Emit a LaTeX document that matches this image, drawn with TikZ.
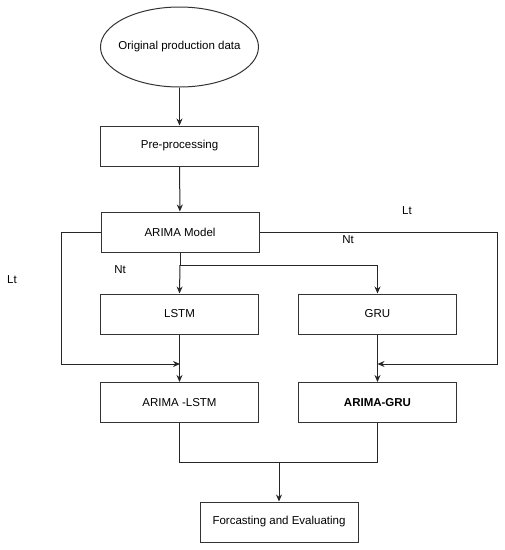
\documentclass[tikz,border=0pt]{standalone}
\usepackage{fontspec}
\setmainfont{Liberation Sans}
\usetikzlibrary{shapes.geometric,arrows.meta}
\begin{document}
\begin{tikzpicture}[x=1pt,y=-1pt,
  line width=1pt, draw=black!85,
  box/.style={draw=black!80, line width=1pt, rectangle, minimum width=158pt, minimum height=40pt, inner sep=0pt, font=\fontsize{11.5}{13}\selectfont},
  oval/.style={draw=black!80, line width=1pt, ellipse, minimum width=158pt, minimum height=80pt, inner xsep=-9pt, inner ysep=0pt, font=\fontsize{11.5}{13}\selectfont},
  arr/.style={draw=black!85, -{Stealth[length=7pt,width=6pt]}},
  lab/.style={font=\fontsize{11.5}{13}\selectfont, inner sep=0pt}]
\useasboundingbox (0,0) rectangle (505,550);
\node[oval] (orig) at (179.5,47) {Original production data};
\node[box] (pre) at (179.5,146) {Pre-processing};
\node[box] (arima) at (180,232) {ARIMA Model};
\node[box] (lstm) at (179.5,314) {LSTM};
\node[box] (gru) at (377.5,314) {GRU};
\node[box] (alstm) at (179.5,402.5) {ARIMA -LSTM};
\node[box] (agru) at (377.5,402.5) {\textbf{ARIMA-GRU}};
\node[box] (fe) at (279,522) {Forcasting and Evaluating};
\coordinate (split) at (180,265);
\coordinate (ljoin) at (180,364);
\coordinate (rjoin) at (377.5,364);
\coordinate (merge) at (279,462);
\draw[arr] (orig) -- (pre);
\draw[arr] (pre) -- (arima);
\draw (arima.south) -- (split);
\draw[arr] (split) -- (lstm.north);
\draw[arr] (split) -| (gru.north);
\draw[arr] (lstm) -- (alstm);
\draw[arr] (gru) -- (agru);
\draw[arr] (arima.west) -- (61,232) -- (61,364) -- (ljoin);
\draw[arr] (arima.east) -- (497,232) -- (497,364) -- (rjoin);
\draw (alstm.south) |- (merge);
\draw (agru.south) |- (merge);
\draw[arr] (merge) -- (fe.north);
\node[lab] (lt1) at (407,211) {Lt};
\node[lab] (nt1) at (348,240) {Nt};
\node[lab] (nt2) at (120,270) {Nt};
\node[lab] (lt2) at (12,280) {Lt};
\end{tikzpicture}
\end{document}
